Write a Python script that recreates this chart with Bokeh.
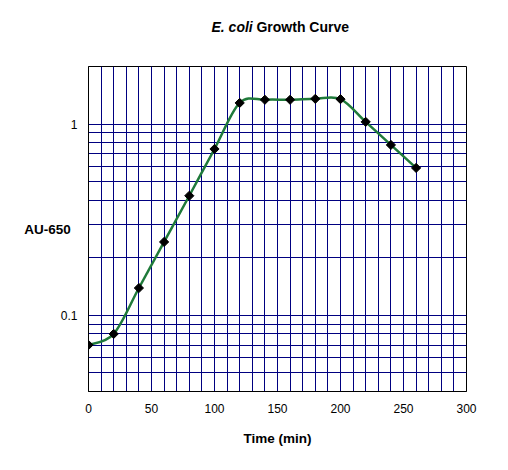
import math
from bokeh.plotting import figure
from bokeh.layouts import column
from bokeh.models import FixedTicker, ColumnDataSource, Range1d
from bokeh.embed import file_html
from bokeh.resources import INLINE
from bokeh.core.properties import value

# ---- data ----
time_min = [0, 20, 40, 60, 80, 100, 120, 140, 160, 180, 200, 220, 240, 260]
au650 = [0.070, 0.080, 0.139, 0.242, 0.422, 0.741, 1.29, 1.34, 1.34, 1.355, 1.35, 1.027, 0.778, 0.590]
x_major = [0, 50, 100, 150, 200, 250, 300]
x_minor = list(range(0, 301, 10))
y_major = [0.1, 1]
y_minor = [0.04, 0.05, 0.06, 0.07, 0.08, 0.09, 0.2, 0.3, 0.4, 0.5, 0.6, 0.7, 0.8, 0.9, 2]
y_labels = {0.1: "0.1", 1: "1"}
title_parts = ["E. coli", "Growth Curve"]

FONT = "Liberation Sans"
GRID = "#000080"

# ---- title strip (mixed italic / upright text), frame aligned with the chart ----
pt = figure(width=500, height=40, x_range=Range1d(0, 300), y_range=Range1d(0, 40),
            x_axis_location=None, y_axis_location=None,
            output_backend="svg", toolbar_location=None,
            min_border_left=88, min_border_right=34, min_border_top=0, min_border_bottom=0)
pt.grid.visible = False
pt.outline_line_color = None
pt.background_fill_color = "white"
pt.border_fill_color = "white"
pt.text(x=[97.6], y=[14], text=[title_parts[0]], text_font=value(FONT),
        text_font_size="14px", text_font_style="bold italic",
        text_baseline="middle", text_align="left", text_color="black")
pt.text(x=[133.3], y=[14], text=[title_parts[1]], text_font=value(FONT),
        text_font_size="14px", text_font_style="bold",
        text_baseline="middle", text_align="left", text_color="black")

# ---- main chart ----
p = figure(width=500, height=422, y_axis_type="log",
           x_range=(0, 300), y_range=(0.04, 2),
           output_backend="svg", toolbar_location=None,
           min_border_left=88, min_border_right=34,
           min_border_top=26, min_border_bottom=71)
p.background_fill_color = "white"
p.border_fill_color = "white"
p.outline_line_color = "black"
p.outline_line_width = 1

p.xaxis.ticker = FixedTicker(ticks=x_major, minor_ticks=x_minor)
p.yaxis.ticker = FixedTicker(ticks=y_major, minor_ticks=y_minor)
p.yaxis.major_label_overrides = y_labels

for ax in (p.xaxis, p.yaxis):
    ax.major_tick_line_color = None
    ax.minor_tick_line_color = None
    ax.major_tick_out = 0
    ax.minor_tick_out = 0
    ax.axis_line_color = "black"
    ax.major_label_text_font = FONT
    ax.major_label_text_font_size = "12px"
    ax.major_label_text_color = "black"
    ax.axis_label_text_font = FONT
    ax.axis_label_text_font_size = "13.5px"
    ax.axis_label_text_font_style = "bold"
    ax.axis_label_text_color = "black"

p.xaxis.axis_label = "Time (min)"
p.xaxis.major_label_standoff = 12
p.xaxis.axis_label_standoff = 15
p.yaxis.axis_label = "AU-650"
p.yaxis.axis_label_orientation = "horizontal"
p.yaxis.major_label_standoff = 11
p.yaxis.axis_label_standoff = -13

for g in (p.xgrid, p.ygrid):
    g.grid_line_color = GRID
    g.grid_line_width = 1
    g.minor_grid_line_color = GRID
    g.minor_grid_line_width = 1

# smooth curve (Catmull-Rom as cubic Bezier, in x / log10(y) space)
ly = [math.log10(v) for v in au650]
n = len(time_min)
x0, y0, x1, y1, cx0, cy0, cx1, cy1 = ([] for _ in range(8))
for i in range(n - 1):
    a = max(i - 1, 0)
    d = min(i + 2, n - 1)
    x0.append(time_min[i]); y0.append(au650[i])
    x1.append(time_min[i + 1]); y1.append(au650[i + 1])
    cx0.append(time_min[i] + (time_min[i + 1] - time_min[a]) / 6)
    cy0.append(10 ** (ly[i] + (ly[i + 1] - ly[a]) / 6))
    cx1.append(time_min[i + 1] - (time_min[d] - time_min[i]) / 6)
    cy1.append(10 ** (ly[i + 1] - (ly[d] - ly[i]) / 6))
p.bezier(x0=x0, y0=y0, x1=x1, y1=y1, cx0=cx0, cy0=cy0, cx1=cx1, cy1=cy1,
         line_color="#1f7a3a", line_width=2.5)

src = ColumnDataSource(dict(t=time_min, a=au650))
p.scatter("t", "a", source=src, marker="square", size=6.5, angle=math.pi / 4,
          fill_color="black", line_color="black")

layout = column(pt, p, spacing=0)
open("out.html", "w").write(file_html(layout, INLINE))
